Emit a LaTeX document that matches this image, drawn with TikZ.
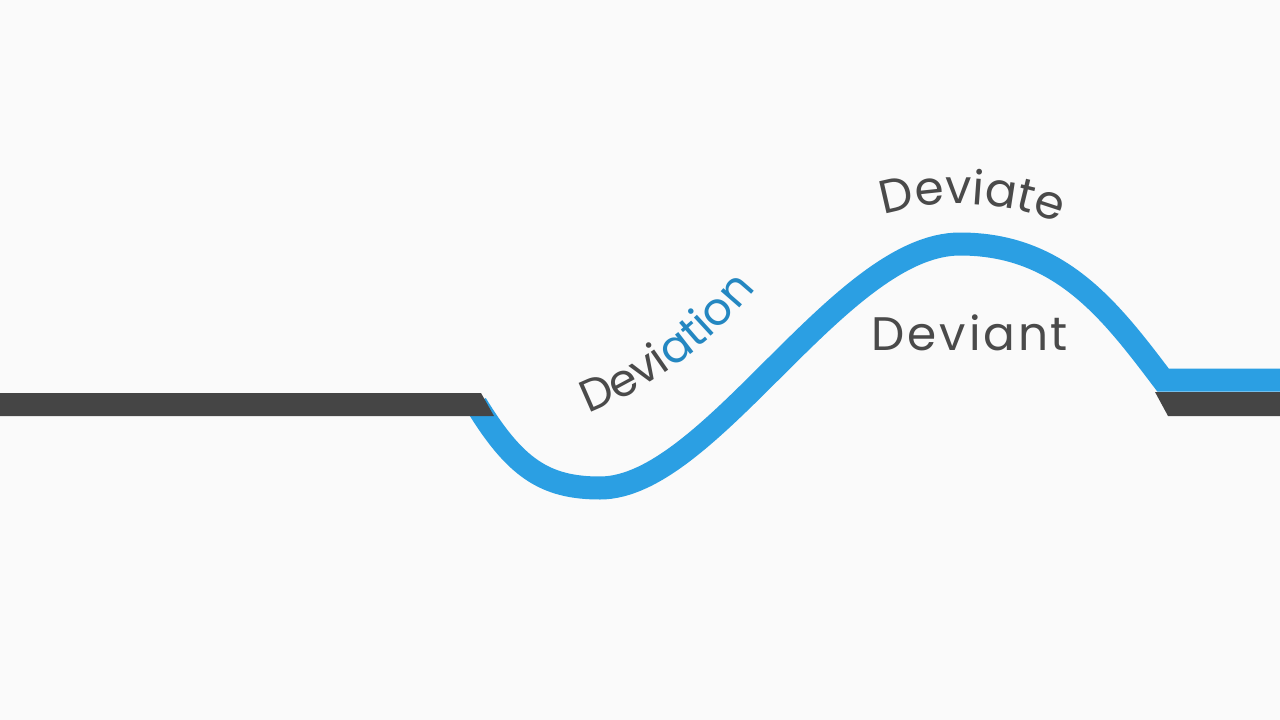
\documentclass[tikz,border=0pt]{standalone}
\usepackage{fontspec}
\setmainfont[LetterSpace=6]{Poppins}
\usetikzlibrary{decorations.text}
\definecolor{bl}{HTML}{2B9FE3}
\definecolor{dk}{HTML}{454545}
\definecolor{tx}{HTML}{4A4A4A}
\definecolor{bg}{HTML}{FAFAFA}
\begin{document}
\begin{tikzpicture}[x=1pt,y=-1pt,
  band/.style={fill=dk},
  lbl/.style={text=tx,font=\fontsize{47}{47}\selectfont}]
\fill[bg] (0,0) rectangle (1280,720);
\useasboundingbox (0,0) rectangle (1280,720);
\fill[band] (1155,392) -- (1280,392) -- (1280,416) -- (1168,416) -- cycle;
\draw[bl,line width=23pt] (476,404) .. controls (515,468) and (545,488) .. (600,488)
  .. controls (710,488) and (840,244) .. (960,244)
  .. controls (1060,244) and (1110,310) .. (1163,380) -- (1290,380);
\fill[band] (-5,393) -- (481,393) -- (494,416) -- (-5,416) -- cycle;
\node[lbl] (dvt) at (970,333) {Deviant};
\path[decorate,decoration={text along path,text align=center,
  text={|\fontsize{47}{47}\selectfont\color{tx}|Deviate}}]
  (858,224) .. controls (930,194) and (1010,198) .. (1084,234);
\path[decorate,decoration={text along path,text align=center,
  text={|\fontsize{45}{45}\selectfont\color{tx}|Devi|\fontsize{45}{45}\selectfont\color{bl!85!black}|ation}}]
  (556,424) .. controls (645,400) and (725,336) .. (776,262);
\end{tikzpicture}
\end{document}
